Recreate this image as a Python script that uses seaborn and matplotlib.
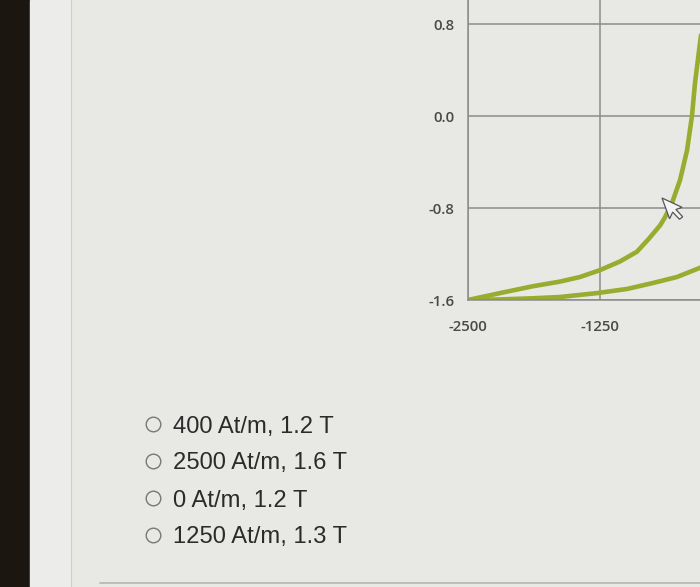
import numpy as np
import pandas as pd
import matplotlib.pyplot as plt
import seaborn as sns
from matplotlib.lines import Line2D
from matplotlib.patches import Polygon, Rectangle

# hysteresis loop, part visible in the photo (H in At/m, B in T)
upper_H = [-2500, -2197, -1884, -1629, -1439, -1250, -1061, -900, -790, -680, -634,
           -568, -492, -426, -379, -350, -303, -280]
upper_B = [-1.60, -1.54, -1.48, -1.44, -1.40, -1.34, -1.265, -1.18, -1.07, -0.95, -0.88,
           -0.756, -0.557, -0.30, 0.00, 0.29, 0.635, 0.80]
lower_H = [-2500, -2197, -1884, -1629, -1278, -994, -748, -521, -303, -250]
lower_B = [-1.60, -1.595, -1.585, -1.574, -1.54, -1.504, -1.452, -1.40, -1.32, -1.30]

y_ticks = [-1.6, -0.8, 0.0, 0.8]
y_labels = ['-1.6', '-0.8', '0.0', '0.8']
x_ticks = [-2500, -1250]
x_labels = ['-2500', '-1250']

options = ['400 At/m, 1.2 T', '2500 At/m, 1.6 T', '0 At/m, 1.2 T', '1250 At/m, 1.3 T']

df = pd.DataFrame({
    'H': upper_H + lower_H,
    'B': upper_B + lower_B,
    'branch': ['upper'] * len(upper_H) + ['lower'] * len(lower_H),
})

sns.set_style('white')
plt.rcParams['font.family'] = ['Liberation Sans', 'DejaVu Sans']

W, H = 700, 587
bg = '#e8e8e5'
grid_c = '#8c8c8a'
green = '#97ad2f'

fig = plt.figure(figsize=(7, 5.87), dpi=100, facecolor=bg)


def fx(px):
    return px / W


def fy(py):
    return 1 - py / H


# screen bezel on the left and page borders
fig.add_artist(Rectangle((0, 0), fx(30), 1, transform=fig.transFigure, color='#1c1611', zorder=0))
fig.add_artist(Rectangle((fx(30), 0), fx(41), 1, transform=fig.transFigure, color='#ececea', zorder=0))
fig.add_artist(Line2D([fx(71), fx(71)], [0, 1], transform=fig.transFigure, color='#cdcdca', lw=0.8))
fig.add_artist(Line2D([fx(100), 1], [fy(583), fy(583)], transform=fig.transFigure, color='#b5b5b2', lw=1.2))

ax = fig.add_axes([fx(468), fy(300), (700 - 468) / W, 300 / H])
ax.set_facecolor(bg)

sns.lineplot(data=df, x='H', y='B', units='branch', estimator=None, sort=False,
             color=green, lw=3.3, ax=ax, legend=False)

px_per_unit_x = 132 / 1250
ax.set_xlim(-2500, -2500 + (700 - 468) / px_per_unit_x)
ax.set_ylim(-1.6, -1.6 + 300 * (2.4 / 276))

ax.set_yticks(y_ticks)
ax.set_yticklabels(y_labels)
ax.set_xticks(x_ticks)
ax.set_xticklabels(x_labels)
ax.set_xlabel('')
ax.set_ylabel('')

ax.grid(True, color=grid_c, lw=1.1)
ax.set_axisbelow(True)
for side in ['top', 'right']:
    ax.spines[side].set_visible(False)
for side in ['left', 'bottom']:
    ax.spines[side].set_color(grid_c)
    ax.spines[side].set_linewidth(1.1)

ax.tick_params(axis='both', direction='out', length=3.5, width=1.1, color=grid_c,
               labelsize=10.8, labelcolor='#4a4a4a')
ax.tick_params(axis='y', pad=6)
ax.tick_params(axis='x', pad=11)
for lab in ax.get_xticklabels() + ax.get_yticklabels():
    lab.set_fontfamily(['Open Sans', 'DejaVu Sans'])
    lab.set_fontweight('semibold')

# mouse pointer from the photo
ptr = np.array([[0, 0], [0, 17], [4, 13], [7, 20], [10, 19], [7, 12], [12, 12]]) * 1.3
ptr = ptr @ np.array([[np.cos(-0.35), np.sin(-0.35)], [-np.sin(-0.35), np.cos(-0.35)]])
ptr = ptr + np.array([662, 198])
fig.add_artist(Polygon(np.column_stack([fx(ptr[:, 0]), fy(ptr[:, 1])]), closed=True,
                       transform=fig.transFigure, facecolor='#f4f4f4', edgecolor='#555555', lw=0.9, zorder=5))

# answer options
row_y = [424, 461, 498, 535]
for text, cy in zip(options, row_y):
    fig.add_artist(Line2D([fx(153)], [fy(cy)], transform=fig.transFigure, marker='o', ms=10.5,
                          mfc='none', mec='#777777', mew=1.0, ls='none'))
    fig.text(fx(173), fy(cy + 8.5), text, fontsize=17.1, color='#2b2b2b', va='baseline', ha='left')

fig.savefig('out.png', dpi=100, facecolor=bg)
